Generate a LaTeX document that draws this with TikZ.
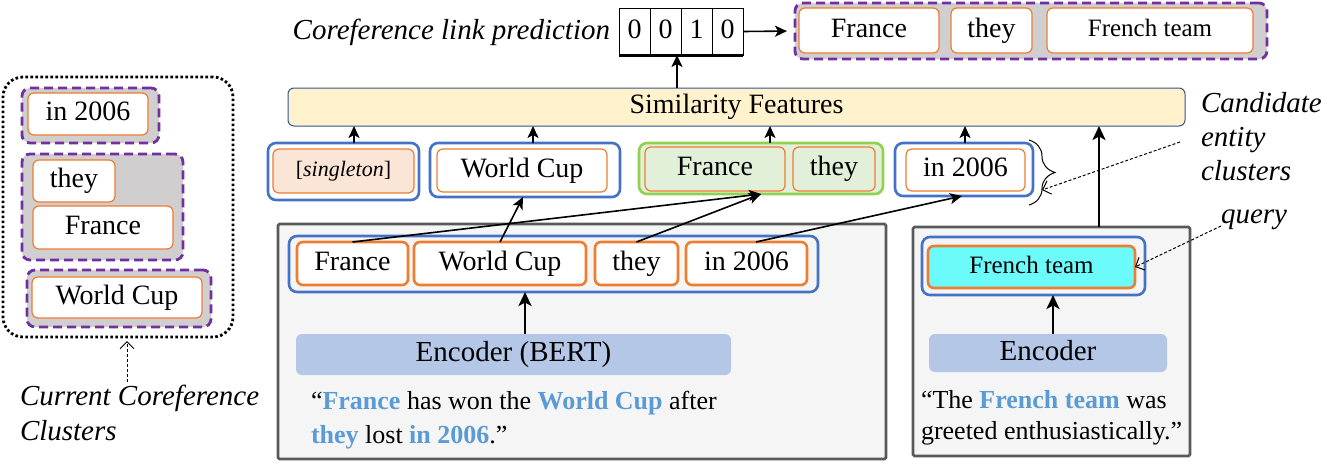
\documentclass[tikz,border=0pt]{standalone}
\usepackage{fontspec}
\setmainfont{Liberation Serif}
\usetikzlibrary{arrows.meta,decorations.pathreplacing,calc}
\definecolor{orng}{HTML}{ED7D31}
\definecolor{blu}{HTML}{4472C4}
\definecolor{purp}{HTML}{7030A0}
\definecolor{clgrey}{HTML}{D0CECE}
\definecolor{grnd}{HTML}{92D050}
\definecolor{grnf}{HTML}{E2F0D9}
\definecolor{peach}{HTML}{FBE5D6}
\definecolor{simf}{HTML}{FFF2CC}
\definecolor{simd}{HTML}{2F5597}
\definecolor{encf}{HTML}{B4C7E7}
\definecolor{pfill}{HTML}{F5F5F5}
\definecolor{pdraw}{HTML}{595959}
\definecolor{cyanf}{HTML}{6CFBFB}
\definecolor{qblue}{HTML}{5B9BD5}
\newcommand\qhl[1]{\textbf{\textcolor{qblue}{#1}}}
\begin{document}
\begin{tikzpicture}[x=1pt,y=-1pt,
  every node/.style={inner sep=0pt, outer sep=0pt},
  sz/.style 2 args={minimum width=#1pt, minimum height=#2pt},
  f29/.style={font=\fontsize{29}{34}\selectfont, text height=20.3pt, text depth=6.3pt},
  f28/.style={font=\fontsize{28}{33}\selectfont, text height=19.5pt, text depth=6pt},
  f26/.style={font=\fontsize{26}{31}\selectfont},
  f25/.style={font=\fontsize{25}{30}\selectfont, text height=17.5pt, text depth=5.5pt},
  f22/.style={font=\fontsize{22}{26}\selectfont, text height=15.4pt, text depth=4.8pt},
  it29/.style={font=\fontsize{29}{34}\selectfont\itshape},
  mthick/.style={draw=orng, line width=2.6pt, rounded corners=6pt, fill=white, f28},
  mthin/.style={draw=orng, line width=1.2pt, rounded corners=6pt, fill=white, f28},
  bluebox/.style={draw=blu, line width=2.6pt, rounded corners=8pt, fill=white},
  purpbox/.style={draw=purp, line width=2.8pt, dash pattern=on 9pt off 5pt, fill=clgrey, rounded corners=8pt},
  panel/.style={draw=pdraw, line width=2.6pt, fill=pfill, rounded corners=1.5pt},
  encbox/.style={fill=encf, rounded corners=6pt, f29},
  arr/.style={line width=1.6pt, -{Stealth[length=12pt,width=11pt,inset=3pt]}},
  bigarr/.style={line width=2.6pt, -{Stealth[length=14pt,width=13pt,inset=3.5pt]}},
  darr/.style={line width=1pt, dash pattern=on 3pt off 2pt, -{Straight Barb[length=7pt,width=14pt]}},
  cellbox/.style={draw=black, line width=1pt, sz={31}{47}, f28},
]
\useasboundingbox (0,0) rectangle (1327,464);

% ---------------- left panel: current clusters
\node[draw=black, line width=2.8pt, dash pattern=on 2.6pt off 2.4pt, rounded corners=20pt, sz={230}{260}] (cur) at (118,207) {};
\node[purpbox, sz={137}{55}] (pA) at (90.5,115.5) {};
\node[mthin, sz={120}{42}] (iA) at (88,114) {in 2006};
\node[purpbox, sz={161}{106}] (pB) at (102.5,207) {};
\node[mthin, sz={82}{42}] (iB1) at (74,181) {they};
\node[mthin, sz={140}{43}] (iB2) at (103,227.5) {France};
\node[purpbox, sz={184}{57}] (pC) at (119,298.5) {};
\node[mthin, sz={170}{41}] (iC) at (117,297.5) {World Cup};
\node[it29, anchor=west] (ccA) at (20,398) {Current Coreference};
\node[it29, anchor=west] (ccB) at (20,431) {Clusters};
\coordinate (ccs) at (127,382);
\draw[darr, shorten >=4pt] (ccs) -- (ccs |- cur.south);

% ---------------- top: link prediction
\node[it29, anchor=east] (clp) at (610,32) {Coreference link prediction};
\node[cellbox] (v1) at (634.5,31.5) {0};
\node[cellbox] (v2) at (665.5,31.5) {0};
\node[cellbox] (v3) at (696.5,31.5) {1};
\node[cellbox] (v4) at (727.5,31.5) {0};
\draw[line width=3pt] (v1.south west) -- (v4.south east);
\node[purpbox, sz={472}{56}] (tp) at (1031,31) {};
\node[mthin, sz={140}{45}] (tFr) at (869,30.5) {France};
\node[mthin, sz={81}{45}] (tThey) at (991.5,30.5) {they};
\node[mthin, sz={206}{45}, f25] (tFT) at (1150,30.5) {French team};
\draw[arr, shorten >=8pt] (v4.east) -- (tp.west);

% ---------------- similarity features
\node[draw=simd, line width=1pt, fill=simf, rounded corners=6pt, sz={897}{38}, f28] (sim) at (736.5,107) {Similarity Features};
\coordinate (va) at ([xshift=-4pt]v2.south east);
\draw[arr] (va |- sim.north) -- (va);

% ---------------- candidate clusters
\node[bluebox, sz={151}{57}] (s1) at (343.5,171.5) {};
\node[mthin, fill=peach, sz={141}{44}, f22] (s1i) at (343.5,171) {[\textit{singleton}]};
\node[bluebox, sz={190}{54}] (s2) at (525,170) {};
\node[mthin, sz={170}{43}] (s2i) at (522,170.5) {World Cup};
\node[draw=grnd, fill=grnf, line width=2.6pt, rounded corners=8pt, sz={244}{51}] (s3) at (761,168.5) {};
\node[mthin, fill=grnf, sz={140}{44}] (s3a) at (715,169) {France};
\node[mthin, fill=grnf, sz={82}{44}] (s3b) at (834,169) {they};
\node[bluebox, sz={138}{53}] (s4) at (964,169.5) {};
\node[mthin, sz={119}{42}] (s4i) at (965.5,170) {in 2006};

\coordinate (u1) at ([xshift=10.5pt]s1.north);
\coordinate (u2) at ([xshift=8pt]s2.north);
\coordinate (u3) at ([xshift=9pt]s3.north);
\coordinate (u4) at ([xshift=1pt]s4.north);
\draw[arr] (u1) -- (u1 |- sim.south);
\draw[arr] (u2) -- (u2 |- sim.south);
\draw[arr] (u3) -- (u3 |- sim.south);
\draw[arr] (u4) -- (u4 |- sim.south);

\coordinate (bt) at (1029,140);
\coordinate (bb) at (1029,205);
\draw[decorate, decoration={brace, amplitude=26pt}, line width=1pt] (bt) -- (bb);
\node[it29, align=left, anchor=west] (cand) at (1201,137) {Candidate\\entity\\clusters};
\coordinate (candtail) at (1180,142);
\coordinate (bracept) at (1042,190);
\draw[darr] (candtail) -- (bracept);

% ---------------- left encoder panel
\node[panel, sz={608}{235}] (lp) at (582,341.5) {};
\node[draw=blu, line width=2.6pt, rounded corners=8pt, sz={529}{56}] (mc) at (553.5,264) {};
\node[mthick, sz={111}{43}] (m1) at (352.5,263.5) {France};
\node[mthick, sz={172}{43}] (m2) at (500,263.5) {World Cup};
\node[mthick, sz={83}{43}] (m3) at (636.5,263.5) {they};
\node[mthick, sz={121}{43}] (m4) at (746.5,263.5) {in 2006};
\node[encbox, sz={435}{41}] (enc) at (513.5,354.5) {Encoder (BERT)};
\coordinate (ea) at ([xshift=11.5pt]enc.north);
\draw[bigarr] (ea) -- (ea |- mc.south);
\node[font=\fontsize{26}{34}\selectfont, align=left, anchor=west] (qL) at (311,420)
  {“\qhl{France} has won the \qhl{World Cup} after\\\qhl{they} lost \qhl{in 2006}.”};

% ---------------- right encoder panel
\node[panel, sz={277}{229}] (rp) at (1051.5,341.5) {};
\node[draw=blu, line width=2.6pt, rounded corners=8pt, sz={223}{58}] (qc) at (1033.5,266) {};
\node[mthick, fill=cyanf, sz={207}{42}, f25] (qFT) at (1031.5,267) {French team};
\node[encbox, sz={238}{38}] (qenc) at (1048,353) {Encoder};
\coordinate (qa) at ([xshift=5pt]qenc.north);
\draw[bigarr] (qa) -- (qa |- qc.south);
\node[f26, align=left, anchor=west] (qR) at (921,417.5)
  {“The \qhl{French team} was\\greeted enthusiastically.”};
\node[it29] (qry) at (1254,220) {query};
\draw[darr] ([yshift=-6pt]qry.west) -- (qFT.east);

% ---------------- mention -> cluster links
\draw[arr] (m1.north) -- (s3.south);
\draw[arr] (m2.north) -- ([xshift=-2pt]s2.south);
\draw[arr] (m3.north) -- (s3.south);
\draw[arr] ([xshift=9.5pt]m4.north) -- ([xshift=-2pt]s4.south);

% ---------------- query -> similarity
\coordinate (ra) at ([xshift=47.5pt]rp.north);
\draw[bigarr] (ra) -- (ra |- sim.south);
\end{tikzpicture}
\end{document}
